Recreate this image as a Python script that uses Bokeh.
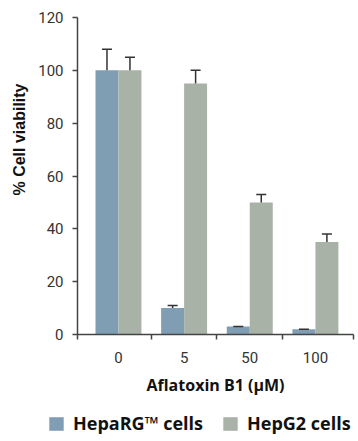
from bokeh.plotting import figure
from bokeh.layouts import column
from bokeh.models import (ColumnDataSource, FixedTicker, Whisker, TeeHead, Legend,
                          LegendItem, Title, Range1d)
from bokeh.transform import dodge
from bokeh.embed import file_html
from bokeh.resources import INLINE

doses = ["0", "5", "50", "100"]
heparg = [100, 10, 3, 2]
heparg_err = [8, 1, 0, 0]
hepg2 = [100, 95, 50, 35]
hepg2_err = [5, 5, 3, 3]
y_ticks = [0, 20, 40, 60, 80, 100, 120]
series_names = ["HepaRG™ cells", "HepG2 cells"]

BLUE = "#7f9eb4"
GREY = "#a8b2a7"
DARK = "#333333"

pos = list(range(len(doses)))
src = ColumnDataSource(dict(
    x=pos,
    a=heparg, a_up=[v + e for v, e in zip(heparg, heparg_err)],
    b=hepg2, b_up=[v + e for v, e in zip(hepg2, hepg2_err)],
))

p = figure(width=358, height=401, output_backend="svg", toolbar_location=None,
           x_range=Range1d(-0.624, 3.58), y_range=Range1d(0, 120),
           min_border_left=77, min_border_right=5, min_border_top=17,
           min_border_bottom=67)
p.frame_align = False
p.outline_line_color = None
p.grid.grid_line_color = None
p.background_fill_color = "white"
p.border_fill_color = "white"

w = 0.35
ra = p.vbar(x=dodge("x", -w / 2, range=p.x_range), top="a", width=w, bottom=0,
            source=src, fill_color=BLUE, line_color=None)
rb = p.vbar(x=dodge("x", w / 2, range=p.x_range), top="b", width=w, bottom=0,
            source=src, fill_color=GREY, line_color=None)

for col, up, off in (("a", "a_up", -w / 2), ("b", "b_up", w / 2)):
    wk = Whisker(base=dodge("x", off, range=p.x_range), lower=col, upper=up, source=src,
                 line_color=DARK, line_width=1.5,
                 lower_head=None,
                 upper_head=TeeHead(size=10, line_color=DARK, line_width=1.5),
                 level="overlay")
    p.add_layout(wk)

# y axis
ya = p.yaxis[0]
ya.ticker = FixedTicker(ticks=y_ticks)
ya.axis_line_color = "#444444"
ya.axis_line_width = 1.5
ya.major_tick_line_color = "#444444"
ya.major_tick_line_width = 1.5
ya.major_tick_out = 5
ya.major_tick_in = 0
ya.minor_tick_line_color = None
ya.major_label_text_font = "Roboto"
ya.major_label_text_font_size = "15px"
ya.major_label_text_color = DARK
ya.major_label_standoff = 9

# x axis
xa = p.xaxis[0]
xa.ticker = FixedTicker(ticks=pos, minor_ticks=[-0.62, 0.5, 1.5, 2.5, 3.578])
xa.major_label_overrides = {i: d for i, d in enumerate(doses)}
xa.axis_line_color = "#444444"
xa.axis_line_width = 1.5
xa.major_tick_line_color = None
xa.major_tick_out = 0
xa.major_tick_in = 0
xa.minor_tick_line_color = "#444444"
xa.minor_tick_line_width = 1.5
xa.minor_tick_out = 5
xa.minor_tick_in = 0
xa.major_label_text_font = "Roboto"
xa.major_label_text_font_size = "15px"
xa.major_label_text_color = DARK
xa.major_label_standoff = 12

# axis titles
p.add_layout(Title(text="Aflatoxin B1 (µM)", align="center", text_font="Open Sans",
                   text_font_style="bold", text_font_size="16px", text_color="#111111",
                   standoff=12), "below")
p.add_layout(Title(text="% Cell viability", align="right", offset=66,
                   text_font="Liberation Sans", text_font_style="bold",
                   text_font_size="16px", text_color="#111111", standoff=16), "left")

# legend strip
lg = figure(width=358, height=40, output_backend="svg", toolbar_location=None,
            x_range=Range1d(-0.624, 3.58), y_range=Range1d(1000, 1001),
            x_axis_type=None, y_axis_type=None,
            min_border_left=0, min_border_right=0, min_border_top=0, min_border_bottom=0)
lg.frame_align = False
lg.outline_line_color = None
lg.grid.grid_line_color = None
lg.border_fill_color = "white"
la = lg.vbar(x="x", top="a", width=w, bottom=0, source=src, fill_color=BLUE, line_color=None)
lb = lg.vbar(x="x", top="b", width=w, bottom=0, source=src, fill_color=GREY, line_color=None)
legend = Legend(items=[LegendItem(label=series_names[0], renderers=[la]),
                       LegendItem(label=series_names[1], renderers=[lb])],
                orientation="horizontal", location=(47, 6),
                glyph_width=18, glyph_height=17, label_standoff=8, spacing=18,
                padding=0, margin=0, border_line_color=None,
                background_fill_alpha=0,
                label_text_font="Open Sans", label_text_font_style="bold",
                label_text_font_size="18px", label_text_color="#111111")
lg.add_layout(legend, "center")

layout = column(p, lg, spacing=0)
open("out.html", "w").write(file_html(layout, INLINE))
